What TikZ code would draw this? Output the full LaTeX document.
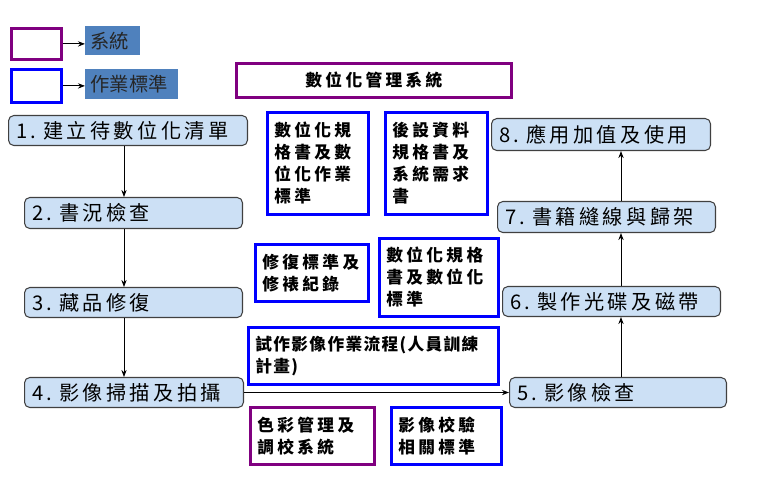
\documentclass[tikz,border=0pt]{standalone}
\usepackage{fontspec}
\setmainfont{Noto Sans CJK TC}
\newfontfamily\flowfont[LetterSpace=17]{Noto Sans CJK TC}
\newfontfamily\notefont[LetterSpace=20]{Noto Sans CJK TC}
\newfontfamily\widenotefont[LetterSpace=8]{Noto Sans CJK TC}
\usetikzlibrary{arrows.meta}
\definecolor{sysline}{RGB}{128,0,128}
\definecolor{stdline}{RGB}{0,0,255}
\definecolor{legfill}{RGB}{79,129,189}
\definecolor{flowfill}{RGB}{204,224,245}

\begin{document}
\begin{tikzpicture}[x=0.02cm,y=-0.02cm,
  flow/.style={draw=black!75,fill=flowfill,rounded corners=3pt,anchor=north west,
    inner xsep=0.15cm,inner ysep=0pt,align=left,line width=0.6pt,
    font=\flowfont\fontsize{11.5}{14}\selectfont},
  sysbox/.style={draw=sysline,line width=1.6pt,fill=white,anchor=north west,
    inner xsep=0.14cm,inner ysep=0pt,align=left,
    font=\notefont\bfseries\fontsize{9.5}{12.5}\selectfont},
  stdbox/.style={sysbox,draw=stdline},
  legtext/.style={fill=legfill,anchor=north west,inner xsep=0.1cm,inner ysep=0pt,
    align=left,text=black!85,font=\fontsize{11}{13}\selectfont},
  arr/.style={-{Stealth[length=4pt,width=3pt]},line width=0.5pt}]
\useasboundingbox (0,0) rectangle (765,496);

% legend
\node[sysbox,minimum width=1cm,minimum height=0.62cm] (legsys) at (10,27) {};
\node[stdbox,minimum width=1cm,minimum height=0.66cm] (legstd) at (10,68) {};
\node[legtext,text width=0.9cm,minimum height=0.58cm] (labsys) at (85,26) {系統};
\node[legtext,text width=1.66cm,minimum height=0.6cm] (labstd) at (85,69) {作業標準};
\draw[arr] (legsys.east) -- (legsys.east -| labsys.west);
\draw[arr] (legstd.east) -- (legstd.east -| labstd.west);

% title
\node[sysbox,align=center,minimum width=5.5cm,minimum height=0.68cm] (title) at (235,62) {數位化管理系統};

% flow steps
\node[flow,text width=4.48cm,minimum height=0.6cm] (s1) at (8,115) {1.~建立待數位化清單};
\node[flow,text width=4.06cm,minimum height=0.62cm] (s2) at (24,197) {2.~書況檢查};
\node[flow,text width=4.06cm,minimum height=0.6cm] (s3) at (24,287) {3.~藏品修復};
\node[flow,text width=4.08cm,minimum height=0.6cm] (s4) at (24,377) {4.~影像掃描及拍攝};
\node[flow,text width=4.04cm,minimum height=0.6cm] (s5) at (509,377) {5.~影像檢查};
\node[flow,text width=4.06cm,minimum height=0.6cm] (s6) at (502,286) {6.~製作光碟及磁帶};
\node[flow,text width=4.06cm,minimum height=0.62cm] (s7) at (497,201) {7.~書籍縫線與歸架};
\node[flow,text width=4.08cm,minimum height=0.64cm] (s8) at (491,118) {8.~應用加值及使用};

% notes
\node[stdbox,text width=1.74cm,minimum height=2.04cm] (specA) at (266,111) {數位化規\\格書及數\\位化作業\\標準};
\node[stdbox,text width=1.76cm,minimum height=2.04cm] (specB) at (384,111) {後設資料\\規格書及\\系統需求\\書};
\node[stdbox,text width=1.98cm,minimum height=1.14cm] (repair) at (254,243) {修復標準及\\修裱紀錄};
\node[stdbox,text width=2.1cm,minimum height=1.56cm] (specC) at (378,237) {數位化規格\\書及數位化\\標準};
\node[stdbox,text width=4.72cm,minimum height=1.14cm,font=\widenotefont\bfseries\fontsize{9.5}{12.5}\selectfont] (trial) at (247,326) {試作影像作業流程(人員訓練\\計畫)};
\node[sysbox,text width=2.2cm,minimum height=1.14cm] (colour) at (249,406) {色彩管理及\\調校系統};
\node[stdbox,text width=1.92cm,minimum height=1.14cm] (check) at (390,406) {影像校驗\\相關標準};

% connectors
\coordinate (leftrail) at (124,0);
\coordinate (rightrail) at (621,0);
\draw[arr] (s1.south -| leftrail) -- (s2.north -| leftrail);
\draw[arr] (s2.south -| leftrail) -- (s3.north -| leftrail);
\draw[arr] (s3.south -| leftrail) -- (s4.north -| leftrail);
\draw[arr] (s4.east) -- (s5.west);
\draw[arr] (s5.north -| rightrail) -- (s6.south -| rightrail);
\draw[arr] (s6.north -| rightrail) -- (s7.south -| rightrail);
\draw[arr] (s7.north -| rightrail) -- (s8.south -| rightrail);
\end{tikzpicture}
\end{document}
